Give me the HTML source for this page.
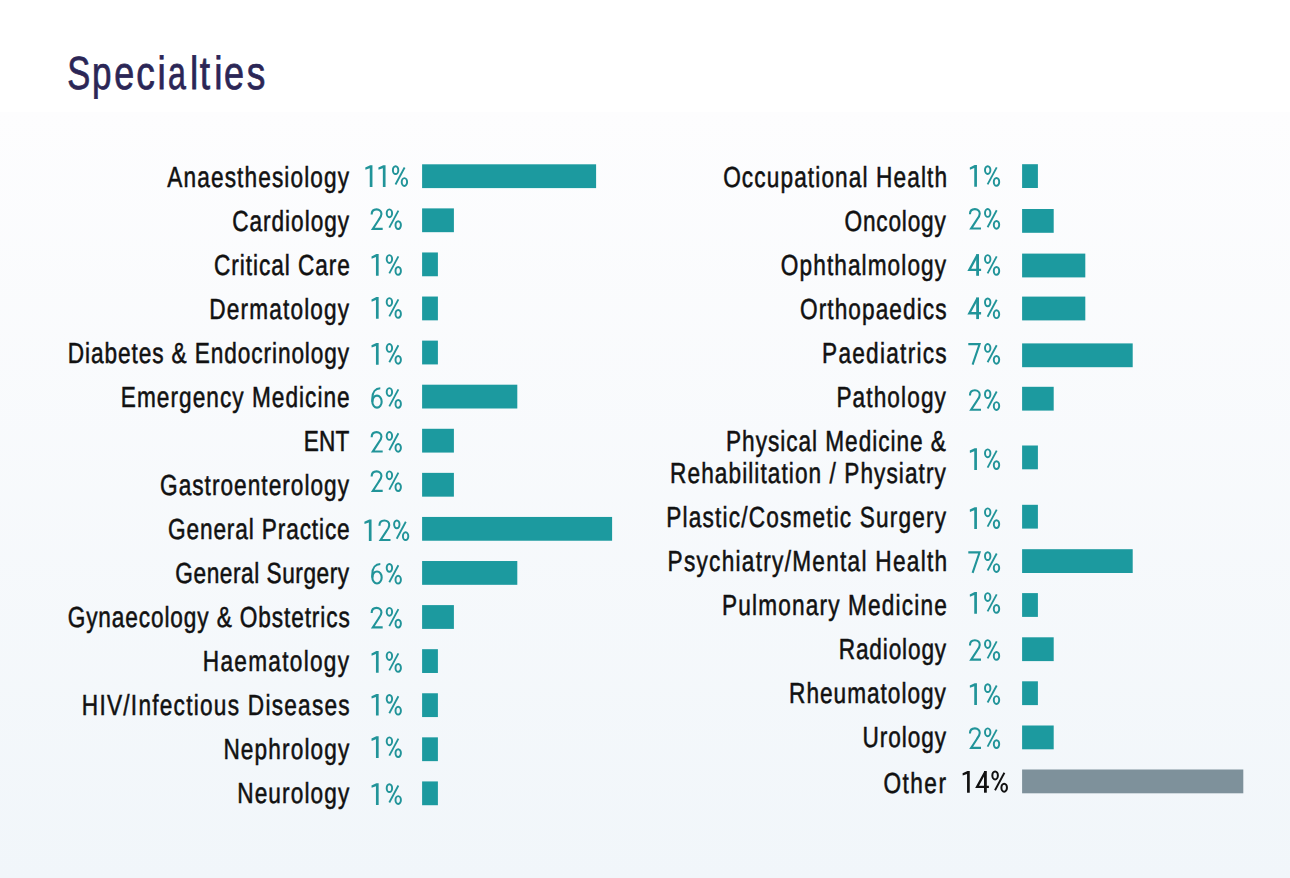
<!DOCTYPE html>
<html><head><meta charset="utf-8"><style>
html,body{margin:0;padding:0;background:#fff;}
svg{display:block;}
text{font-family:"Liberation Sans",sans-serif;text-rendering:geometricPrecision;}
</style></head><body>
<svg width="1290" height="878" viewBox="0 0 1290 878">
<defs><linearGradient id="bg" x1="0" y1="0" x2="0" y2="1">
<stop offset="0" stop-color="#fdfdfe"/><stop offset="1" stop-color="#f1f6fa"/></linearGradient></defs>
<rect x="0" y="0" width="1290" height="878" fill="#ffffff"/>
<rect x="0" y="112" width="1290" height="766" fill="url(#bg)"/>

<text transform="translate(67.15 89.15) scale(0.7423 1)" font-size="46.5" fill="#2b2656" stroke="#2b2656" stroke-width="0.75">S</text>
<text transform="translate(92.08 89.15) scale(0.7531 1)" font-size="46.5" fill="#2b2656" stroke="#2b2656" stroke-width="0.75">p</text>
<text transform="translate(114.27 89.15) scale(0.7720 1)" font-size="46.5" fill="#2b2656" stroke="#2b2656" stroke-width="0.75">e</text>
<text transform="translate(136.17 89.15) scale(0.8000 1)" font-size="46.5" fill="#2b2656" stroke="#2b2656" stroke-width="0.75">c</text>
<text transform="translate(157.39 89.15) scale(0.8000 1)" font-size="46.5" fill="#2b2656" stroke="#2b2656" stroke-width="0.75">i</text>
<text transform="translate(167.88 89.15) scale(0.6912 1)" font-size="46.5" fill="#2b2656" stroke="#2b2656" stroke-width="0.75">a</text>
<text transform="translate(189.93 89.15) scale(0.8000 1)" font-size="46.5" fill="#2b2656" stroke="#2b2656" stroke-width="0.75">l</text>
<text transform="translate(199.73 89.15) scale(0.8000 1)" font-size="46.5" fill="#2b2656" stroke="#2b2656" stroke-width="0.75">t</text>
<text transform="translate(214.29 89.15) scale(0.8000 1)" font-size="46.5" fill="#2b2656" stroke="#2b2656" stroke-width="0.75">i</text>
<text transform="translate(223.94 89.15) scale(0.7746 1)" font-size="46.5" fill="#2b2656" stroke="#2b2656" stroke-width="0.75">e</text>
<text transform="translate(246.69 89.15) scale(0.8000 1)" font-size="46.5" fill="#2b2656" stroke="#2b2656" stroke-width="0.75">s</text>
<text transform="translate(167.29 187.20) scale(0.78 1)" font-size="29.0" fill="#111111" stroke="#111111" stroke-width="0.55" textLength="233.08" lengthAdjust="spacing">Anaesthesiology</text>
<text transform="translate(232.13 231.16) scale(0.78 1)" font-size="29.0" fill="#111111" stroke="#111111" stroke-width="0.55" textLength="149.95" lengthAdjust="spacing">Cardiology</text>
<text transform="translate(214.09 275.12) scale(0.78 1)" font-size="29.0" fill="#111111" stroke="#111111" stroke-width="0.55" textLength="174.04" lengthAdjust="spacing">Critical Care</text>
<text transform="translate(209.32 319.08) scale(0.78 1)" font-size="29.0" fill="#111111" stroke="#111111" stroke-width="0.55" textLength="179.20" lengthAdjust="spacing">Dermatology</text>
<text transform="translate(67.87 363.04) scale(0.78 1)" font-size="29.0" fill="#111111" stroke="#111111" stroke-width="0.55" textLength="360.56" lengthAdjust="spacing">Diabetes &amp; Endocrinology</text>
<text transform="translate(120.85 407.00) scale(0.78 1)" font-size="29.0" fill="#111111" stroke="#111111" stroke-width="0.55" textLength="293.41" lengthAdjust="spacing">Emergency Medicine</text>
<text transform="translate(303.85 450.96) scale(0.78 1)" font-size="29.0" fill="#111111" stroke="#111111" stroke-width="0.55" textLength="58.40" lengthAdjust="spacing">ENT</text>
<text transform="translate(160.03 494.92) scale(0.78 1)" font-size="29.0" fill="#111111" stroke="#111111" stroke-width="0.55" textLength="242.30" lengthAdjust="spacing">Gastroenterology</text>
<text transform="translate(167.99 538.88) scale(0.78 1)" font-size="29.0" fill="#111111" stroke="#111111" stroke-width="0.55" textLength="232.95" lengthAdjust="spacing">General Practice</text>
<text transform="translate(175.37 582.84) scale(0.78 1)" font-size="29.0" fill="#111111" stroke="#111111" stroke-width="0.55" textLength="222.66" lengthAdjust="spacing">General Surgery</text>
<text transform="translate(67.65 626.80) scale(0.78 1)" font-size="29.0" fill="#111111" stroke="#111111" stroke-width="0.55" textLength="361.63" lengthAdjust="spacing">Gynaecology &amp; Obstetrics</text>
<text transform="translate(202.86 670.76) scale(0.78 1)" font-size="29.0" fill="#111111" stroke="#111111" stroke-width="0.55" textLength="187.36" lengthAdjust="spacing">Haematology</text>
<text transform="translate(81.82 714.72) scale(0.78 1)" font-size="29.0" fill="#111111" stroke="#111111" stroke-width="0.55" textLength="343.39" lengthAdjust="spacing">HIV/Infectious Diseases</text>
<text transform="translate(223.39 758.68) scale(0.78 1)" font-size="29.0" fill="#111111" stroke="#111111" stroke-width="0.55" textLength="161.39" lengthAdjust="spacing">Nephrology</text>
<text transform="translate(237.22 802.64) scale(0.78 1)" font-size="29.0" fill="#111111" stroke="#111111" stroke-width="0.55" textLength="143.64" lengthAdjust="spacing">Neurology</text>
<text transform="translate(723.15 187.20) scale(0.78 1)" font-size="29.0" fill="#111111" stroke="#111111" stroke-width="0.55" textLength="287.14" lengthAdjust="spacing">Occupational Health</text>
<text transform="translate(844.55 231.16) scale(0.78 1)" font-size="29.0" fill="#111111" stroke="#111111" stroke-width="0.55" textLength="129.82" lengthAdjust="spacing">Oncology</text>
<text transform="translate(780.87 275.12) scale(0.78 1)" font-size="29.0" fill="#111111" stroke="#111111" stroke-width="0.55" textLength="211.78" lengthAdjust="spacing">Ophthalmology</text>
<text transform="translate(800.09 319.08) scale(0.78 1)" font-size="29.0" fill="#111111" stroke="#111111" stroke-width="0.55" textLength="187.63" lengthAdjust="spacing">Orthopaedics</text>
<text transform="translate(822.09 363.04) scale(0.78 1)" font-size="29.0" fill="#111111" stroke="#111111" stroke-width="0.55" textLength="159.65" lengthAdjust="spacing">Paediatrics</text>
<text transform="translate(836.38 407.00) scale(0.78 1)" font-size="29.0" fill="#111111" stroke="#111111" stroke-width="0.55" textLength="140.40" lengthAdjust="spacing">Pathology</text>
<text transform="translate(726.03 450.70) scale(0.78 1)" font-size="29.0" fill="#111111" stroke="#111111" stroke-width="0.55" textLength="281.94" lengthAdjust="spacing">Physical Medicine &amp;</text>
<text transform="translate(670.11 482.80) scale(0.78 1)" font-size="29.0" fill="#111111" stroke="#111111" stroke-width="0.55" textLength="353.51" lengthAdjust="spacing">Rehabilitation / Physiatry</text>
<text transform="translate(666.34 526.60) scale(0.78 1)" font-size="29.0" fill="#111111" stroke="#111111" stroke-width="0.55" textLength="358.61" lengthAdjust="spacing">Plastic/Cosmetic Surgery</text>
<text transform="translate(667.53 570.80) scale(0.78 1)" font-size="29.0" fill="#111111" stroke="#111111" stroke-width="0.55" textLength="358.51" lengthAdjust="spacing">Psychiatry/Mental Health</text>
<text transform="translate(722.08 614.90) scale(0.78 1)" font-size="29.0" fill="#111111" stroke="#111111" stroke-width="0.55" textLength="288.02" lengthAdjust="spacing">Pulmonary Medicine</text>
<text transform="translate(838.70 659.10) scale(0.78 1)" font-size="29.0" fill="#111111" stroke="#111111" stroke-width="0.55" textLength="137.73" lengthAdjust="spacing">Radiology</text>
<text transform="translate(789.12 703.20) scale(0.78 1)" font-size="29.0" fill="#111111" stroke="#111111" stroke-width="0.55" textLength="201.04" lengthAdjust="spacing">Rheumatology</text>
<text transform="translate(862.43 747.40) scale(0.78 1)" font-size="29.0" fill="#111111" stroke="#111111" stroke-width="0.55" textLength="107.21" lengthAdjust="spacing">Urology</text>
<text transform="translate(883.38 792.60) scale(0.78 1)" font-size="29.0" fill="#111111" stroke="#111111" stroke-width="0.55" textLength="80.23" lengthAdjust="spacing">Other</text>
<path transform="translate(365.25 186.90)" d="M0,-19.4 L4.9,-21.7 L7.2,-21.7 L7.2,0 L4.5,0 L4.5,-18.7 L0.2,-17.1 Z" fill="#219499"/>
<path transform="translate(378.35 186.90)" d="M0,-19.4 L4.9,-21.7 L7.2,-21.7 L7.2,0 L4.5,0 L4.5,-18.7 L0.2,-17.1 Z" fill="#219499"/>
<g transform="translate(391.90 186.90) scale(1.0)" fill="none" stroke="#219499"><ellipse cx="3.7" cy="-16.75" rx="2.7" ry="3.9" stroke-width="1.95"/><ellipse cx="12.5" cy="-4.9" rx="2.7" ry="3.9" stroke-width="1.95"/><path d="M12.7,-19.4 L3.6,-2.4" stroke-width="1.85"/></g>
<path transform="translate(370.50 230.00)" d="M1.15,-15.4 C1.15,-18.9 3.3,-20.6 6.1,-20.6 C9,-20.6 10.95,-18.6 10.95,-15.9 C10.95,-13.6 9.7,-12 8.1,-10 L2.3,-1.15 L12.2,-1.15" fill="none" stroke="#219499" stroke-width="2.1"/>
<g transform="translate(385.70 230.00) scale(1.0)" fill="none" stroke="#219499"><ellipse cx="3.7" cy="-16.75" rx="2.7" ry="3.9" stroke-width="1.95"/><ellipse cx="12.5" cy="-4.9" rx="2.7" ry="3.9" stroke-width="1.95"/><path d="M12.7,-19.4 L3.6,-2.4" stroke-width="1.85"/></g>
<path transform="translate(371.45 275.80)" d="M0,-19.4 L4.9,-21.7 L7.2,-21.7 L7.2,0 L4.5,0 L4.5,-18.7 L0.2,-17.1 Z" fill="#219499"/>
<g transform="translate(385.70 275.80) scale(1.0)" fill="none" stroke="#219499"><ellipse cx="3.7" cy="-16.75" rx="2.7" ry="3.9" stroke-width="1.95"/><ellipse cx="12.5" cy="-4.9" rx="2.7" ry="3.9" stroke-width="1.95"/><path d="M12.7,-19.4 L3.6,-2.4" stroke-width="1.85"/></g>
<path transform="translate(371.45 318.80)" d="M0,-19.4 L4.9,-21.7 L7.2,-21.7 L7.2,0 L4.5,0 L4.5,-18.7 L0.2,-17.1 Z" fill="#219499"/>
<g transform="translate(385.70 318.80) scale(1.0)" fill="none" stroke="#219499"><ellipse cx="3.7" cy="-16.75" rx="2.7" ry="3.9" stroke-width="1.95"/><ellipse cx="12.5" cy="-4.9" rx="2.7" ry="3.9" stroke-width="1.95"/><path d="M12.7,-19.4 L3.6,-2.4" stroke-width="1.85"/></g>
<path transform="translate(371.45 364.70)" d="M0,-19.4 L4.9,-21.7 L7.2,-21.7 L7.2,0 L4.5,0 L4.5,-18.7 L0.2,-17.1 Z" fill="#219499"/>
<g transform="translate(385.70 364.70) scale(1.0)" fill="none" stroke="#219499"><ellipse cx="3.7" cy="-16.75" rx="2.7" ry="3.9" stroke-width="1.95"/><ellipse cx="12.5" cy="-4.9" rx="2.7" ry="3.9" stroke-width="1.95"/><path d="M12.7,-19.4 L3.6,-2.4" stroke-width="1.85"/></g>
<g transform="translate(371.20 408.80)" fill="none" stroke="#219499" stroke-width="2.1"><ellipse cx="5.8" cy="-7.15" rx="4.67" ry="6.02"/><path d="M9.1,-20.55 C4.5,-20.4 1.15,-17 1.15,-10.5 L1.15,-7"/></g>
<g transform="translate(385.70 408.80) scale(1.0)" fill="none" stroke="#219499"><ellipse cx="3.7" cy="-16.75" rx="2.7" ry="3.9" stroke-width="1.95"/><ellipse cx="12.5" cy="-4.9" rx="2.7" ry="3.9" stroke-width="1.95"/><path d="M12.7,-19.4 L3.6,-2.4" stroke-width="1.85"/></g>
<path transform="translate(370.50 452.70)" d="M1.15,-15.4 C1.15,-18.9 3.3,-20.6 6.1,-20.6 C9,-20.6 10.95,-18.6 10.95,-15.9 C10.95,-13.6 9.7,-12 8.1,-10 L2.3,-1.15 L12.2,-1.15" fill="none" stroke="#219499" stroke-width="2.1"/>
<g transform="translate(385.70 452.70) scale(1.0)" fill="none" stroke="#219499"><ellipse cx="3.7" cy="-16.75" rx="2.7" ry="3.9" stroke-width="1.95"/><ellipse cx="12.5" cy="-4.9" rx="2.7" ry="3.9" stroke-width="1.95"/><path d="M12.7,-19.4 L3.6,-2.4" stroke-width="1.85"/></g>
<path transform="translate(370.50 492.00)" d="M1.15,-15.4 C1.15,-18.9 3.3,-20.6 6.1,-20.6 C9,-20.6 10.95,-18.6 10.95,-15.9 C10.95,-13.6 9.7,-12 8.1,-10 L2.3,-1.15 L12.2,-1.15" fill="none" stroke="#219499" stroke-width="2.1"/>
<g transform="translate(385.70 492.00) scale(1.0)" fill="none" stroke="#219499"><ellipse cx="3.7" cy="-16.75" rx="2.7" ry="3.9" stroke-width="1.95"/><ellipse cx="12.5" cy="-4.9" rx="2.7" ry="3.9" stroke-width="1.95"/><path d="M12.7,-19.4 L3.6,-2.4" stroke-width="1.85"/></g>
<path transform="translate(364.35 541.10)" d="M0,-19.4 L4.9,-21.7 L7.2,-21.7 L7.2,0 L4.5,0 L4.5,-18.7 L0.2,-17.1 Z" fill="#219499"/>
<path transform="translate(378.30 541.10)" d="M1.15,-15.4 C1.15,-18.9 3.3,-20.6 6.1,-20.6 C9,-20.6 10.95,-18.6 10.95,-15.9 C10.95,-13.6 9.7,-12 8.1,-10 L2.3,-1.15 L12.2,-1.15" fill="none" stroke="#219499" stroke-width="2.1"/>
<g transform="translate(393.10 541.10) scale(1.0)" fill="none" stroke="#219499"><ellipse cx="3.7" cy="-16.75" rx="2.7" ry="3.9" stroke-width="1.95"/><ellipse cx="12.5" cy="-4.9" rx="2.7" ry="3.9" stroke-width="1.95"/><path d="M12.7,-19.4 L3.6,-2.4" stroke-width="1.85"/></g>
<g transform="translate(371.20 584.60)" fill="none" stroke="#219499" stroke-width="2.1"><ellipse cx="5.8" cy="-7.15" rx="4.67" ry="6.02"/><path d="M9.1,-20.55 C4.5,-20.4 1.15,-17 1.15,-10.5 L1.15,-7"/></g>
<g transform="translate(385.70 584.60) scale(1.0)" fill="none" stroke="#219499"><ellipse cx="3.7" cy="-16.75" rx="2.7" ry="3.9" stroke-width="1.95"/><ellipse cx="12.5" cy="-4.9" rx="2.7" ry="3.9" stroke-width="1.95"/><path d="M12.7,-19.4 L3.6,-2.4" stroke-width="1.85"/></g>
<path transform="translate(370.50 628.50)" d="M1.15,-15.4 C1.15,-18.9 3.3,-20.6 6.1,-20.6 C9,-20.6 10.95,-18.6 10.95,-15.9 C10.95,-13.6 9.7,-12 8.1,-10 L2.3,-1.15 L12.2,-1.15" fill="none" stroke="#219499" stroke-width="2.1"/>
<g transform="translate(385.70 628.50) scale(1.0)" fill="none" stroke="#219499"><ellipse cx="3.7" cy="-16.75" rx="2.7" ry="3.9" stroke-width="1.95"/><ellipse cx="12.5" cy="-4.9" rx="2.7" ry="3.9" stroke-width="1.95"/><path d="M12.7,-19.4 L3.6,-2.4" stroke-width="1.85"/></g>
<path transform="translate(371.45 672.80)" d="M0,-19.4 L4.9,-21.7 L7.2,-21.7 L7.2,0 L4.5,0 L4.5,-18.7 L0.2,-17.1 Z" fill="#219499"/>
<g transform="translate(385.70 672.80) scale(1.0)" fill="none" stroke="#219499"><ellipse cx="3.7" cy="-16.75" rx="2.7" ry="3.9" stroke-width="1.95"/><ellipse cx="12.5" cy="-4.9" rx="2.7" ry="3.9" stroke-width="1.95"/><path d="M12.7,-19.4 L3.6,-2.4" stroke-width="1.85"/></g>
<path transform="translate(371.45 715.60)" d="M0,-19.4 L4.9,-21.7 L7.2,-21.7 L7.2,0 L4.5,0 L4.5,-18.7 L0.2,-17.1 Z" fill="#219499"/>
<g transform="translate(385.70 715.60) scale(1.0)" fill="none" stroke="#219499"><ellipse cx="3.7" cy="-16.75" rx="2.7" ry="3.9" stroke-width="1.95"/><ellipse cx="12.5" cy="-4.9" rx="2.7" ry="3.9" stroke-width="1.95"/><path d="M12.7,-19.4 L3.6,-2.4" stroke-width="1.85"/></g>
<path transform="translate(371.45 758.00)" d="M0,-19.4 L4.9,-21.7 L7.2,-21.7 L7.2,0 L4.5,0 L4.5,-18.7 L0.2,-17.1 Z" fill="#219499"/>
<g transform="translate(385.70 758.00) scale(1.0)" fill="none" stroke="#219499"><ellipse cx="3.7" cy="-16.75" rx="2.7" ry="3.9" stroke-width="1.95"/><ellipse cx="12.5" cy="-4.9" rx="2.7" ry="3.9" stroke-width="1.95"/><path d="M12.7,-19.4 L3.6,-2.4" stroke-width="1.85"/></g>
<path transform="translate(371.45 804.90)" d="M0,-19.4 L4.9,-21.7 L7.2,-21.7 L7.2,0 L4.5,0 L4.5,-18.7 L0.2,-17.1 Z" fill="#219499"/>
<g transform="translate(385.70 804.90) scale(1.0)" fill="none" stroke="#219499"><ellipse cx="3.7" cy="-16.75" rx="2.7" ry="3.9" stroke-width="1.95"/><ellipse cx="12.5" cy="-4.9" rx="2.7" ry="3.9" stroke-width="1.95"/><path d="M12.7,-19.4 L3.6,-2.4" stroke-width="1.85"/></g>
<path transform="translate(969.75 186.80)" d="M0,-19.4 L4.9,-21.7 L7.2,-21.7 L7.2,0 L4.5,0 L4.5,-18.7 L0.2,-17.1 Z" fill="#219499"/>
<g transform="translate(984.00 186.80) scale(1.0)" fill="none" stroke="#219499"><ellipse cx="3.7" cy="-16.75" rx="2.7" ry="3.9" stroke-width="1.95"/><ellipse cx="12.5" cy="-4.9" rx="2.7" ry="3.9" stroke-width="1.95"/><path d="M12.7,-19.4 L3.6,-2.4" stroke-width="1.85"/></g>
<path transform="translate(968.80 229.70)" d="M1.15,-15.4 C1.15,-18.9 3.3,-20.6 6.1,-20.6 C9,-20.6 10.95,-18.6 10.95,-15.9 C10.95,-13.6 9.7,-12 8.1,-10 L2.3,-1.15 L12.2,-1.15" fill="none" stroke="#219499" stroke-width="2.1"/>
<g transform="translate(984.00 229.70) scale(1.0)" fill="none" stroke="#219499"><ellipse cx="3.7" cy="-16.75" rx="2.7" ry="3.9" stroke-width="1.95"/><ellipse cx="12.5" cy="-4.9" rx="2.7" ry="3.9" stroke-width="1.95"/><path d="M12.7,-19.4 L3.6,-2.4" stroke-width="1.85"/></g>
<g transform="translate(968.10 275.80)" fill="none" stroke="#219499"><path d="M9.5,-21.7 V0" stroke-width="2.8"/><path d="M9.4,-20.9 L1.2,-5.85 L13,-5.85" stroke-width="2.3"/></g>
<g transform="translate(984.00 275.80) scale(1.0)" fill="none" stroke="#219499"><ellipse cx="3.7" cy="-16.75" rx="2.7" ry="3.9" stroke-width="1.95"/><ellipse cx="12.5" cy="-4.9" rx="2.7" ry="3.9" stroke-width="1.95"/><path d="M12.7,-19.4 L3.6,-2.4" stroke-width="1.85"/></g>
<g transform="translate(968.10 319.10)" fill="none" stroke="#219499"><path d="M9.5,-21.7 V0" stroke-width="2.8"/><path d="M9.4,-20.9 L1.2,-5.85 L13,-5.85" stroke-width="2.3"/></g>
<g transform="translate(984.00 319.10) scale(1.0)" fill="none" stroke="#219499"><ellipse cx="3.7" cy="-16.75" rx="2.7" ry="3.9" stroke-width="1.95"/><ellipse cx="12.5" cy="-4.9" rx="2.7" ry="3.9" stroke-width="1.95"/><path d="M12.7,-19.4 L3.6,-2.4" stroke-width="1.85"/></g>
<path transform="translate(968.30 364.70)" d="M0,-20.55 L11.3,-20.55 L4.3,0" fill="none" stroke="#219499" stroke-width="2.1" stroke-miterlimit="8"/>
<g transform="translate(984.00 364.70) scale(1.0)" fill="none" stroke="#219499"><ellipse cx="3.7" cy="-16.75" rx="2.7" ry="3.9" stroke-width="1.95"/><ellipse cx="12.5" cy="-4.9" rx="2.7" ry="3.9" stroke-width="1.95"/><path d="M12.7,-19.4 L3.6,-2.4" stroke-width="1.85"/></g>
<path transform="translate(968.80 410.90)" d="M1.15,-15.4 C1.15,-18.9 3.3,-20.6 6.1,-20.6 C9,-20.6 10.95,-18.6 10.95,-15.9 C10.95,-13.6 9.7,-12 8.1,-10 L2.3,-1.15 L12.2,-1.15" fill="none" stroke="#219499" stroke-width="2.1"/>
<g transform="translate(984.00 410.90) scale(1.0)" fill="none" stroke="#219499"><ellipse cx="3.7" cy="-16.75" rx="2.7" ry="3.9" stroke-width="1.95"/><ellipse cx="12.5" cy="-4.9" rx="2.7" ry="3.9" stroke-width="1.95"/><path d="M12.7,-19.4 L3.6,-2.4" stroke-width="1.85"/></g>
<path transform="translate(969.75 470.00)" d="M0,-19.4 L4.9,-21.7 L7.2,-21.7 L7.2,0 L4.5,0 L4.5,-18.7 L0.2,-17.1 Z" fill="#219499"/>
<g transform="translate(984.00 470.00) scale(1.0)" fill="none" stroke="#219499"><ellipse cx="3.7" cy="-16.75" rx="2.7" ry="3.9" stroke-width="1.95"/><ellipse cx="12.5" cy="-4.9" rx="2.7" ry="3.9" stroke-width="1.95"/><path d="M12.7,-19.4 L3.6,-2.4" stroke-width="1.85"/></g>
<path transform="translate(969.75 529.00)" d="M0,-19.4 L4.9,-21.7 L7.2,-21.7 L7.2,0 L4.5,0 L4.5,-18.7 L0.2,-17.1 Z" fill="#219499"/>
<g transform="translate(984.00 529.00) scale(1.0)" fill="none" stroke="#219499"><ellipse cx="3.7" cy="-16.75" rx="2.7" ry="3.9" stroke-width="1.95"/><ellipse cx="12.5" cy="-4.9" rx="2.7" ry="3.9" stroke-width="1.95"/><path d="M12.7,-19.4 L3.6,-2.4" stroke-width="1.85"/></g>
<path transform="translate(968.30 572.90)" d="M0,-20.55 L11.3,-20.55 L4.3,0" fill="none" stroke="#219499" stroke-width="2.1" stroke-miterlimit="8"/>
<g transform="translate(984.00 572.90) scale(1.0)" fill="none" stroke="#219499"><ellipse cx="3.7" cy="-16.75" rx="2.7" ry="3.9" stroke-width="1.95"/><ellipse cx="12.5" cy="-4.9" rx="2.7" ry="3.9" stroke-width="1.95"/><path d="M12.7,-19.4 L3.6,-2.4" stroke-width="1.85"/></g>
<path transform="translate(969.75 613.80)" d="M0,-19.4 L4.9,-21.7 L7.2,-21.7 L7.2,0 L4.5,0 L4.5,-18.7 L0.2,-17.1 Z" fill="#219499"/>
<g transform="translate(984.00 613.80) scale(1.0)" fill="none" stroke="#219499"><ellipse cx="3.7" cy="-16.75" rx="2.7" ry="3.9" stroke-width="1.95"/><ellipse cx="12.5" cy="-4.9" rx="2.7" ry="3.9" stroke-width="1.95"/><path d="M12.7,-19.4 L3.6,-2.4" stroke-width="1.85"/></g>
<path transform="translate(968.80 660.80)" d="M1.15,-15.4 C1.15,-18.9 3.3,-20.6 6.1,-20.6 C9,-20.6 10.95,-18.6 10.95,-15.9 C10.95,-13.6 9.7,-12 8.1,-10 L2.3,-1.15 L12.2,-1.15" fill="none" stroke="#219499" stroke-width="2.1"/>
<g transform="translate(984.00 660.80) scale(1.0)" fill="none" stroke="#219499"><ellipse cx="3.7" cy="-16.75" rx="2.7" ry="3.9" stroke-width="1.95"/><ellipse cx="12.5" cy="-4.9" rx="2.7" ry="3.9" stroke-width="1.95"/><path d="M12.7,-19.4 L3.6,-2.4" stroke-width="1.85"/></g>
<path transform="translate(969.75 704.90)" d="M0,-19.4 L4.9,-21.7 L7.2,-21.7 L7.2,0 L4.5,0 L4.5,-18.7 L0.2,-17.1 Z" fill="#219499"/>
<g transform="translate(984.00 704.90) scale(1.0)" fill="none" stroke="#219499"><ellipse cx="3.7" cy="-16.75" rx="2.7" ry="3.9" stroke-width="1.95"/><ellipse cx="12.5" cy="-4.9" rx="2.7" ry="3.9" stroke-width="1.95"/><path d="M12.7,-19.4 L3.6,-2.4" stroke-width="1.85"/></g>
<path transform="translate(968.80 749.00)" d="M1.15,-15.4 C1.15,-18.9 3.3,-20.6 6.1,-20.6 C9,-20.6 10.95,-18.6 10.95,-15.9 C10.95,-13.6 9.7,-12 8.1,-10 L2.3,-1.15 L12.2,-1.15" fill="none" stroke="#219499" stroke-width="2.1"/>
<g transform="translate(984.00 749.00) scale(1.0)" fill="none" stroke="#219499"><ellipse cx="3.7" cy="-16.75" rx="2.7" ry="3.9" stroke-width="1.95"/><ellipse cx="12.5" cy="-4.9" rx="2.7" ry="3.9" stroke-width="1.95"/><path d="M12.7,-19.4 L3.6,-2.4" stroke-width="1.85"/></g>
<path transform="translate(962.55 792.70)" d="M0,-19.4 L4.9,-21.7 L7.2,-21.7 L7.2,0 L4.5,0 L4.5,-18.7 L0.2,-17.1 Z" fill="#111111"/>
<g transform="translate(975.90 792.70)" fill="none" stroke="#111111"><path d="M9.5,-21.7 V0" stroke-width="2.8"/><path d="M9.4,-20.9 L1.2,-5.85 L13,-5.85" stroke-width="2.3"/></g>
<g transform="translate(991.30 792.70) scale(1.03)" fill="none" stroke="#111111"><ellipse cx="3.7" cy="-16.75" rx="2.7" ry="3.9" stroke-width="1.95"/><ellipse cx="12.5" cy="-4.9" rx="2.7" ry="3.9" stroke-width="1.95"/><path d="M12.7,-19.4 L3.6,-2.4" stroke-width="1.85"/></g>
<rect x="422.1" y="164.30" width="174" height="23.8" fill="#1c9a9f"/>
<rect x="422.1" y="208.38" width="31.8" height="23.8" fill="#1c9a9f"/>
<rect x="422.1" y="252.46" width="15.8" height="23.8" fill="#1c9a9f"/>
<rect x="422.1" y="296.54" width="15.8" height="23.8" fill="#1c9a9f"/>
<rect x="422.1" y="340.62" width="15.8" height="23.8" fill="#1c9a9f"/>
<rect x="422.1" y="384.70" width="95.2" height="23.8" fill="#1c9a9f"/>
<rect x="422.1" y="428.78" width="31.8" height="23.8" fill="#1c9a9f"/>
<rect x="422.1" y="472.86" width="31.8" height="23.8" fill="#1c9a9f"/>
<rect x="422.1" y="516.94" width="190" height="23.8" fill="#1c9a9f"/>
<rect x="422.1" y="561.02" width="95.2" height="23.8" fill="#1c9a9f"/>
<rect x="422.1" y="605.10" width="31.8" height="23.8" fill="#1c9a9f"/>
<rect x="422.1" y="649.18" width="15.8" height="23.8" fill="#1c9a9f"/>
<rect x="422.1" y="693.26" width="15.8" height="23.8" fill="#1c9a9f"/>
<rect x="422.1" y="737.34" width="15.8" height="23.8" fill="#1c9a9f"/>
<rect x="422.1" y="781.42" width="15.8" height="23.8" fill="#1c9a9f"/>
<rect x="1022.1" y="164.20" width="15.8" height="23.8" fill="#1c9a9f"/>
<rect x="1022.1" y="209.00" width="31.6" height="23.8" fill="#1c9a9f"/>
<rect x="1022.1" y="253.60" width="63.2" height="23.8" fill="#1c9a9f"/>
<rect x="1022.1" y="296.60" width="63.2" height="23.8" fill="#1c9a9f"/>
<rect x="1022.1" y="343.40" width="110.6" height="23.8" fill="#1c9a9f"/>
<rect x="1022.1" y="386.80" width="31.6" height="23.8" fill="#1c9a9f"/>
<rect x="1022.1" y="445.50" width="15.8" height="23.8" fill="#1c9a9f"/>
<rect x="1022.1" y="504.80" width="15.8" height="23.8" fill="#1c9a9f"/>
<rect x="1022.1" y="549.20" width="110.6" height="23.8" fill="#1c9a9f"/>
<rect x="1022.1" y="593.10" width="15.8" height="23.8" fill="#1c9a9f"/>
<rect x="1022.1" y="637.30" width="31.6" height="23.8" fill="#1c9a9f"/>
<rect x="1022.1" y="681.30" width="15.8" height="23.8" fill="#1c9a9f"/>
<rect x="1022.1" y="725.50" width="31.6" height="23.8" fill="#1c9a9f"/>
<rect x="1022.1" y="769.50" width="221.2" height="23.8" fill="#7e919b"/>
</svg></body></html>
